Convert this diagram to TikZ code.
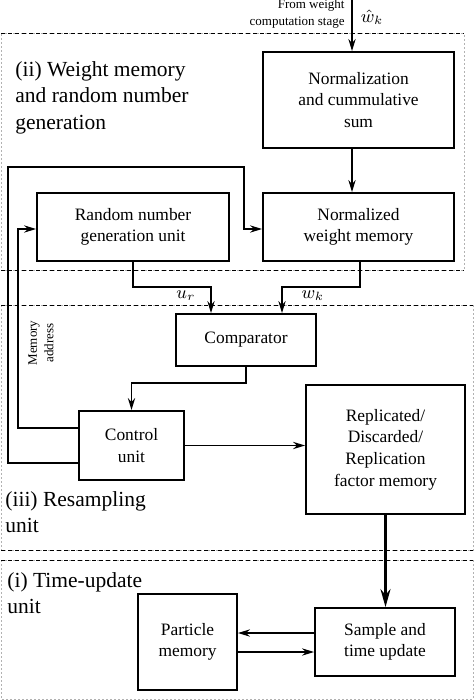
\documentclass[tikz,border=0pt]{standalone}
\usepackage{fontspec}
\setmainfont{Liberation Serif}
\usetikzlibrary{positioning,arrows.meta}

\begin{document}
\begin{tikzpicture}[x=0.5pt,y=-0.5pt, >={Stealth[length=6pt,width=3.6pt]},
    block/.style={draw, line width=0.9pt, align=center, inner sep=0pt,
      font=\fontsize{8.7}{10.8}\selectfont},
    wire/.style={->, line width=0.9pt},
    regionedge/.style={line width=0.5pt, dash pattern=on 2pt off 1.5pt},
    regionside/.style={line width=0.5pt, gray!60, dash pattern=on 1pt off 1pt},
    regiontext/.style={anchor=north west, align=left, inner sep=0pt,
      font=\fontsize{10.75}{13.25}\selectfont},
    smalltext/.style={align=center, inner sep=0pt, font=\fontsize{6.5}{8.3}\selectfont}]
    \useasboundingbox (0,0) rectangle (474,700);
    % regions
    \draw[regionside] (1,34) rectangle (464,270);
    \draw[regionedge] (1,34) -- (464,34) (1,270) -- (464,270);
    \draw[regionside] (1,305) rectangle (473,550);
    \draw[regionedge] (1,305) -- (473,305) (1,550) -- (473,550);
    \draw[regionside] (1,560) rectangle (473,699);
    \draw[regionedge] (1,560) -- (473,560);
    \node[regiontext] (lii) at (15,61) {(ii) Weight memory\\and random number\\generation};
    \node[regiontext] (liii) at (5,491) {(iii) Resampling\\unit};
    \node[regiontext] (li) at (7,572) {(i) Time-update\\unit};
    % blocks
    \node[block, minimum width=95.5pt, minimum height=48pt] (norm) at (358.5,100)
      {Normalization\\and cummulative\\sum};
    \node[block, minimum width=95.5pt, minimum height=34pt] (nwm) at (358.5,227)
      {Normalized\\weight memory};
    \node[block, minimum width=96pt, minimum height=34pt] (rng) at (133,227)
      {Random number\\generation unit};
    \node[block, minimum width=70pt, minimum height=26pt] (comp) at (246,340) {Comparator};
    \node[block, minimum width=52.5pt, minimum height=34.5pt] (ctrl) at (131.5,445.5)
      {Control\\unit};
    \node[block, minimum width=79.5pt, minimum height=64.5pt] (repl) at (385.5,449.5)
      {Replicated/\\Discarded/\\Replication\\factor memory};
    \node[block, minimum width=49.5pt, minimum height=48pt] (part) at (187.5,642)
      {Particle\\memory};
    \node[block, minimum width=70pt, minimum height=34pt] (samp) at (385,642)
      {Sample and\\time update};
    % input
    \coordinate (in) at (352,0);
    \node[smalltext, align=right, anchor=east] (from) at (345,14) {From weight\\computation stage};
    \node[inner sep=0pt, font=\fontsize{8.7}{10}\selectfont] (what) at (372,17) {$\hat{w}_k$};
    \draw[wire] (in) -- (in |- norm.north);
    \draw[wire] (in |- norm.south) -- (in |- nwm.north);
    % weights and random numbers to comparator
    \draw[wire] (rng.south) -- ++(0,25) -| ([xshift=-17.5pt]comp.north)
      node[pos=0.66, left=4pt, font=\fontsize{8.7}{10}\selectfont] (ur) {$u_r$};
    \draw[wire] ([xshift=0.75pt]nwm.south) -- ++(0,25) -| ([xshift=18pt]comp.north)
      node[pos=0.66, right=6pt, font=\fontsize{8.7}{10}\selectfont] (wk) {$w_k$};
    \draw[wire] (comp.south) -- ++(0,16) -| (ctrl.north);
    \draw[wire] (ctrl.east) -- (ctrl.east -| repl.west);
    % memory address loops
    \coordinate (loop) at (244,167);
    \draw[wire] ([yshift=8.75pt]ctrl.west) -- ++(-60,0) |- ([yshift=-1pt]rng.west);
    \draw[wire] ([yshift=-8.75pt]ctrl.west) -- ++(-70,0) |- (loop) |- ([yshift=-1pt]nwm.west);
    \node[smalltext, rotate=90] (addr) at (41,343) {Memory\\address};
    % time update
    \draw[-{Stealth[length=9pt,width=5pt]}, line width=1.3pt] (repl.south) -- (repl.south |- samp.north);
    \draw[wire] ([yshift=4.5pt]samp.west) -- ([yshift=4.5pt]samp.west -| part.east);
    \draw[wire] ([yshift=-5pt]part.east) -- ([yshift=-5pt]part.east -| samp.west);
\end{tikzpicture}
\end{document}
